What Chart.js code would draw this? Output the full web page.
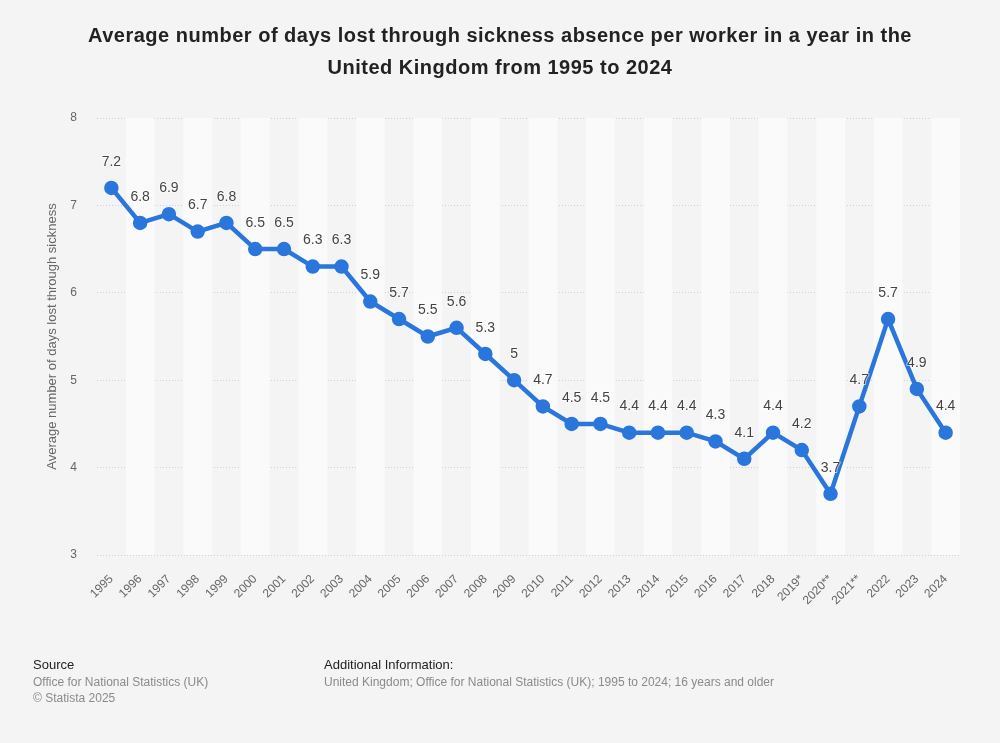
<!DOCTYPE html>
<html>
<head>
<meta charset="utf-8">
<script src="https://cdn.jsdelivr.net/npm/chart.js@4.4.1/dist/chart.umd.min.js"></script>
<style>
  html, body { margin: 0; padding: 0; background: #f4f4f4; }
  #wrap { position: relative; width: 1000px; height: 743px; font-family: "Liberation Sans", Arial, sans-serif; }
  #wrap canvas { position: absolute; left: 0; top: 0; }
  #title { position: absolute; left: 0; top: 19px; width: 1000px; text-align: center; font-size: 20px; font-weight: bold;
           letter-spacing: 0.5px; line-height: 32px; color: #222; }
  .foot { position: absolute; top: 657px; font-size: 12px; line-height: 16px; color: #8a8a8a; }
  .foot b { display: block; font-weight: normal; font-size: 13px; color: #222; margin-bottom: 1px; }
</style>
</head>
<body>
<div id="wrap">
  <canvas id="line-chart" width="1000" height="743"></canvas>
  <div id="title"></div>
  <div class="foot" style="left:33px"><b>Source</b>Office for National Statistics (UK)<br>© Statista 2025</div>
  <div class="foot" style="left:324px"><b>Additional Information:</b>United Kingdom; Office for National Statistics (UK); 1995 to 2024; 16 years and older</div>
</div>
<script>
const years = ['1995', '1996', '1997', '1998', '1999', '2000', '2001', '2002', '2003', '2004',
    '2005', '2006', '2007', '2008', '2009', '2010', '2011', '2012', '2013', '2014',
    '2015', '2016', '2017', '2018', '2019*', '2020**', '2021**', '2022', '2023', '2024'];
const daysLost = [7.2, 6.8, 6.9, 6.7, 6.8, 6.5, 6.5, 6.3, 6.3, 5.9,
    5.7, 5.5, 5.6, 5.3, 5, 4.7, 4.5, 4.5, 4.4, 4.4,
    4.4, 4.3, 4.1, 4.4, 4.2, 3.7, 4.7, 5.7, 4.9, 4.4];
const titleLines = ['Average number of days lost through sickness absence per worker in a year in the',
    'United Kingdom from 1995 to 2024'];

document.getElementById('title').innerHTML = titleLines.join('<br>');

// alternating column bands behind the plot
const bands = {
    id: 'bands',
    beforeDatasetsDraw(chart) {
        const ctx = chart.ctx, x = chart.scales.x, area = chart.chartArea;
        const w = (area.right - area.left) / years.length;
        ctx.save();
        ctx.fillStyle = '#fafafa';
        years.forEach((y, i) => {
            if (i % 2 === 1) {
                const cx = x.getPixelForValue(i);
                ctx.fillRect(cx - w / 2, area.top, w, area.bottom - area.top);
            }
        });
        ctx.restore();
    }
};

// value labels above each point
const valueLabels = {
    id: 'valueLabels',
    afterDatasetsDraw(chart) {
        const ctx = chart.ctx;
        const meta = chart.getDatasetMeta(0);
        ctx.save();
        ctx.font = '14px "Liberation Sans", Arial, sans-serif';
        ctx.textAlign = 'center';
        ctx.textBaseline = 'middle';
        ctx.lineJoin = 'round';
        meta.data.forEach((pt, i) => {
            const txt = String(daysLost[i]);
            ctx.strokeStyle = 'rgba(255,255,255,0.6)';
            ctx.lineWidth = 2;
            ctx.strokeText(txt, pt.x, pt.y - 26);
            ctx.fillStyle = '#444';
            ctx.fillText(txt, pt.x, pt.y - 26);
        });
        ctx.restore();
    }
};

new Chart(document.getElementById('line-chart'), {
    type: 'line',
    data: {
        labels: years,
        datasets: [{
            data: daysLost,
            borderColor: '#2a76dc',
            backgroundColor: '#2a76dc',
            borderWidth: 4.5,
            pointRadius: 5,
            pointHoverRadius: 5,
            tension: 0,
            fill: false
        }]
    },
    options: {
        responsive: false,
        animation: false,
        events: [],
        layout: { padding: { left: 41, right: 40, top: 118, bottom: 128 } },
        plugins: {
            legend: { display: false },
            tooltip: { enabled: false },
            title: { display: false }
        },
        scales: {
            x: {
                offset: true,
                grid: { display: false, drawTicks: false },
                border: { display: false },
                ticks: {
                    color: '#666',
                    font: { family: '"Liberation Sans", Arial, sans-serif', size: 12 },
                    maxRotation: 45,
                    minRotation: 45,
                    autoSkip: false,
                    padding: 17
                },
                afterFit(scale) { scale.height = 60; }
            },
            y: {
                min: 3,
                max: 8,
                grid: { color: '#cfcfcf', drawTicks: false },
                border: { display: false, dash: [1, 2] },
                ticks: {
                    stepSize: 1,
                    color: '#666',
                    font: { family: '"Liberation Sans", Arial, sans-serif', size: 12 },
                    padding: 20
                },
                title: {
                    display: true,
                    text: 'Average number of days lost through sickness',
                    color: '#666',
                    font: { family: '"Liberation Sans", Arial, sans-serif', size: 13 },
                    padding: { top: 4, bottom: 4 }
                },
                afterFit(scale) { scale.width = 56; }
            }
        }
    },
    plugins: [bands, valueLabels]
});
</script>
</body>
</html>
